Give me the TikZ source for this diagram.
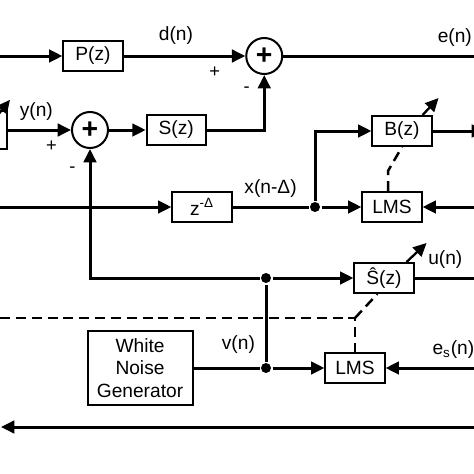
\documentclass[tikz,border=0pt]{standalone}
\usepackage{fontspec}
\setmainfont{Liberation Sans}
\usetikzlibrary{positioning,arrows.meta}
\tikzset{
	every picture/.style={/utils/exec={\fontsize{11.5}{13.5}\selectfont}},
	blk/.style={draw, rectangle, line width=1.2pt, minimum width=35.5pt, minimum height=18pt, inner sep=1pt},
	sumnode/.style={draw, circle, line width=1.2pt, minimum size=21.6pt, inner sep=0pt, font=\fontsize{17}{17}\selectfont\bfseries},
	junc/.style={circle, fill, inner sep=0pt, minimum size=6pt},
	adapt/.style={line width=1.5pt, dash pattern=on 6pt off 3.5pt},
	sgn/.style={font=\fontsize{11}{11}\selectfont},
}

\begin{document}
\begin{tikzpicture}[x=0.6pt, y=-0.6pt, line width=1.8pt, >={Triangle[length=8pt,width=7.5pt]}]
			\useasboundingbox (0,0) rectangle (474,474);
			% blocks
			\node[blk] (pz) at (93,56) {P(z)};
			\node[sumnode, right=73pt of pz] (sum1) {+};
			\node[sumnode] (sum2) at (90,130) {+};
			\node[blk, right=22pt of sum2] (sz) {S(z)};
			\node[blk, anchor=east, minimum width=40pt, minimum height=23pt] (wz) at (8,130) {};
			\node[blk] (delay) at (202,207) {z\textsuperscript{-Δ}};
			\node[junc] (j1) at (315,207) {};
			\node[blk] (lms1) at (392,207) {LMS};
			\node[blk] (bz) at (402,131) {B(z)};
			\node[blk] (shat) at (384,278) {Ŝ(z)};
			\node[junc] (j2) at (266,278) {};
			\node[junc] (j3) at (266,368) {};
			\node[blk, minimum width=63pt, minimum height=44pt, align=center] (wng) at (140,368) {White\\Noise\\Generator};
			\node[blk] (lms2) at (355,368) {LMS};
			
			% loose ends at the border
			\coordinate (inP) at (0,56);
			\coordinate (outE) at (476,56);
			\coordinate (inX) at (0,207);
			\coordinate (outB) at (485,131);
			\coordinate (inL1) at (476,207);
			\coordinate (outU) at (476,278);
			\coordinate (inL2) at (476,368);
			\coordinate (botR) at (476,427);
			\coordinate (botL) at (1,427);
			\coordinate (dashL) at (0,318);
			\coordinate (knee) at (355,318);
			
			\draw[->] (inP) -- (pz);
			\draw[->] (pz) -- node[pos=0.43, above=2pt]{d(n)} node[sgn, pos=0.75, below=2pt]{+} (sum1);
			\draw (sum1) -- node[pos=0.89, above=1pt]{e(n)} (outE);
			\draw[->] (sz) -| node[sgn, pos=0.87, left=4pt]{-} (sum1);
			\draw[->] (wz.east) -- node[pos=0.45, above=1pt]{y(n)} node[sgn, pos=0.69, below=2pt]{+} (sum2);
			\draw[->] (sum2) -- (sz);
			
			\draw[->] (inX) -- (delay);
			\draw (delay) -- node[above=1pt]{x(n-Δ)} (j1);
			\draw[->] (j1) -- (lms1);
			\draw[->] (j1) |- (bz);
			\draw[->] (bz) -- (outB);
			\draw[->] (inL1) -- (lms1);
			\draw[adapt] ([xshift=-2.4pt]lms1.north) -- ++(0,-20) -- (bz.south);
			\draw[->, line width=1.4pt] (bz.north east) ++(-10,0) -- ++(16,-17);
			
			\draw[->] (j2) -| node[sgn, pos=0.92, left=4pt]{-} (sum2);
			\draw[->] (j2) -- (shat);
			\draw (shat) -- node[above=1pt]{u(n)} (outU);
			\draw[->, line width=1.4pt] (shat.north east) ++(-8,0) -- ++(20,-19);
			\draw (wng) -- node[pos=0.68, above=4pt]{v(n)} (j3);
			\draw (j3) -- (j2);
			\draw[->] (j3) -- (lms2);
			\draw[->] (inL2) -- node[pos=0.25, above=1pt]{e\textsubscript{s}(n)} (lms2);
			\draw[adapt] (dashL) -- (knee) -- (lms2.north);
			\draw[adapt] (knee) -- ([xshift=-4pt]shat.south);
			\draw[->, line width=1.4pt] (wz.north east) ++(-14,10) -- ++(16,-20);
			
			\draw[->] (botR) -- (botL);
		\end{tikzpicture}
\end{document}
